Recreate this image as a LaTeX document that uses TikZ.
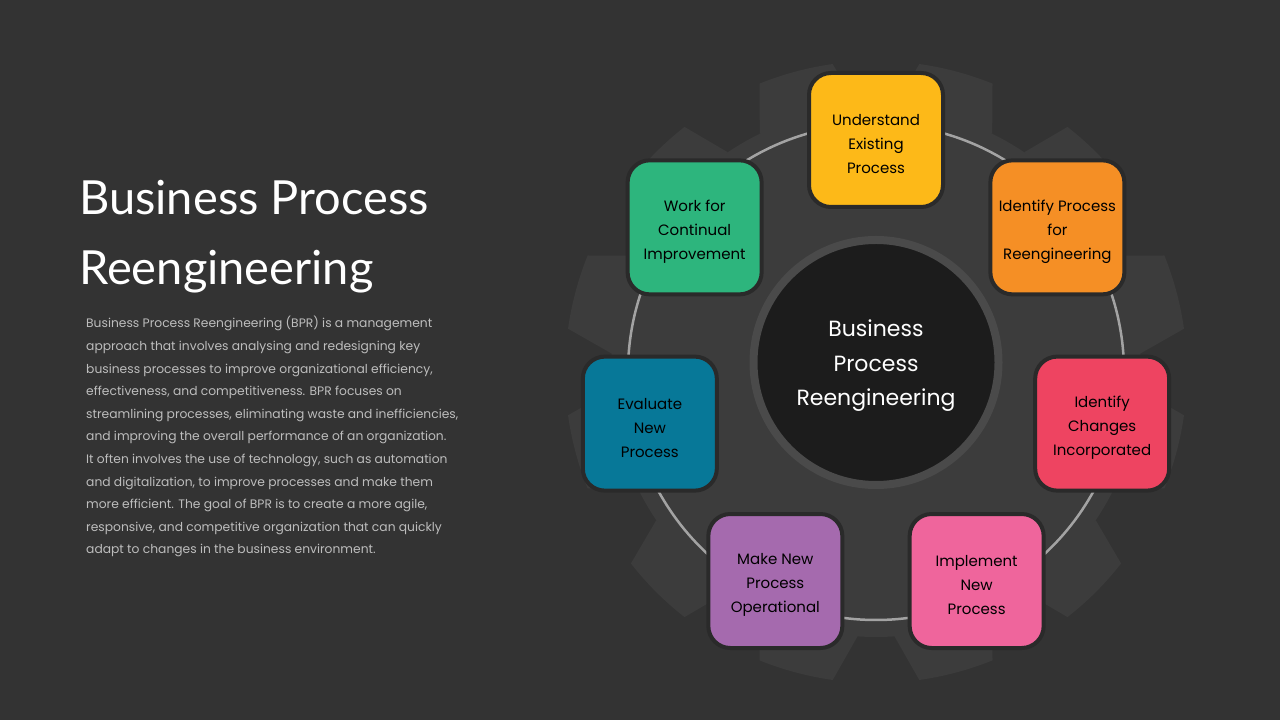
\documentclass[tikz,border=0pt]{standalone}
\usepackage{fontspec}
\setmainfont{Poppins}
\newfontfamily\titlefont{Lato}
\usepackage{xcolor}

\definecolor{bgdark}{HTML}{333333}
\definecolor{geargray}{HTML}{3C3C3C}
\definecolor{ringgray}{HTML}{A3A3A3}
\definecolor{hubfill}{HTML}{1C1C1C}
\definecolor{hubrim}{HTML}{4A4A4A}
\definecolor{boxrim}{HTML}{2A2A2A}
\definecolor{bodygray}{HTML}{BDBDBD}
\definecolor{stepyellow}{HTML}{FDB918}
\definecolor{steporange}{HTML}{F58F25}
\definecolor{stepred}{HTML}{EE4461}
\definecolor{steppink}{HTML}{EF659C}
\definecolor{steppurple}{HTML}{A56AAE}
\definecolor{stepteal}{HTML}{077898}
\definecolor{stepgreen}{HTML}{2DB57D}

\tikzset{
  stagebox/.style={draw=boxrim, line width=4pt, rounded corners=22pt,
    minimum size=134pt, inner sep=0pt, align=center, text=black,
    font=\fontsize{15}{24}\selectfont},
  hub/.style={circle, draw=hubrim, line width=8pt, fill=hubfill,
    minimum size=245pt, inner sep=0pt, align=center, text=white,
    font=\fontsize{22}{34.5}\selectfont},
  headline/.style={anchor=base west, inner sep=0pt, text=white,
    font=\titlefont\fontsize{47}{67}\selectfont},
  blurb/.style={anchor=base west, inner sep=0pt, align=left, text=bodygray,
    font=\fontsize{12.3}{22.6}\selectfont},
}

\begin{document}
\begin{tikzpicture}[x=1pt,y=1pt]
\useasboundingbox[fill=bgdark] (0,0) rectangle (1280,720);

% Title and text on the left
\node[headline] (title1) at (79,505) {Business Process};
\node[headline] (title2) at (79,435) {Reengineering};
% base of the blurb is its last line
\node[blurb] (blurb) at (86,166) {Business Process Reengineering (BPR) is a management\\
approach that involves analysing and redesigning key\\
business processes to improve organizational efficiency,\\
effectiveness, and competitiveness. BPR focuses on\\
streamlining processes, eliminating waste and inefficiencies,\\
and improving the overall performance of an organization.\\
It often involves the use of technology, such as automation\\
and digitalization, to improve processes and make them\\
more efficient. The goal of BPR is to create a more agile,\\
responsive, and competitive organization that can quickly\\
adapt to changes in the business environment.};

% Gear and ring behind the cycle
\begin{scope}[shift={(876,348)}]
  \fill[geargray] (0,0) circle (265);
  \foreach \a in {15,45,...,345}
    \fill[geargray] (\a-11:265) -- (\a-7:311)
      arc[start angle=\a-7, end angle=\a+7, radius=311] -- (\a+11:265) -- cycle;
  \draw[ringgray, line width=2.5pt] (0,0) circle (248);

  % The seven stages
  \foreach \name/\col/\txt [count=\k from 0] in {
      understand/stepyellow/{Understand\\Existing\\Process},
      identify/steporange/{Identify Process\\for\\Reengineering},
      changes/stepred/{Identify\\Changes\\Incorporated},
      implement/steppink/{Implement\\New\\Process},
      operational/steppurple/{Make New\\Process\\Operational},
      evaluate/stepteal/{Evaluate\\New\\Process},
      improve/stepgreen/{Work for\\Continual\\Improvement}}
    \node[stagebox, fill=\col] (\name) at ({90-\k*360/7}:232)
      {\rule{0pt}{19.4pt}\txt};
\end{scope}

% Centre circle
\node[hub] (hub) at (876,357.5)
  {\rule{0pt}{23.3pt}Business\\Process\\Reengineering};

\end{tikzpicture}
\end{document}
